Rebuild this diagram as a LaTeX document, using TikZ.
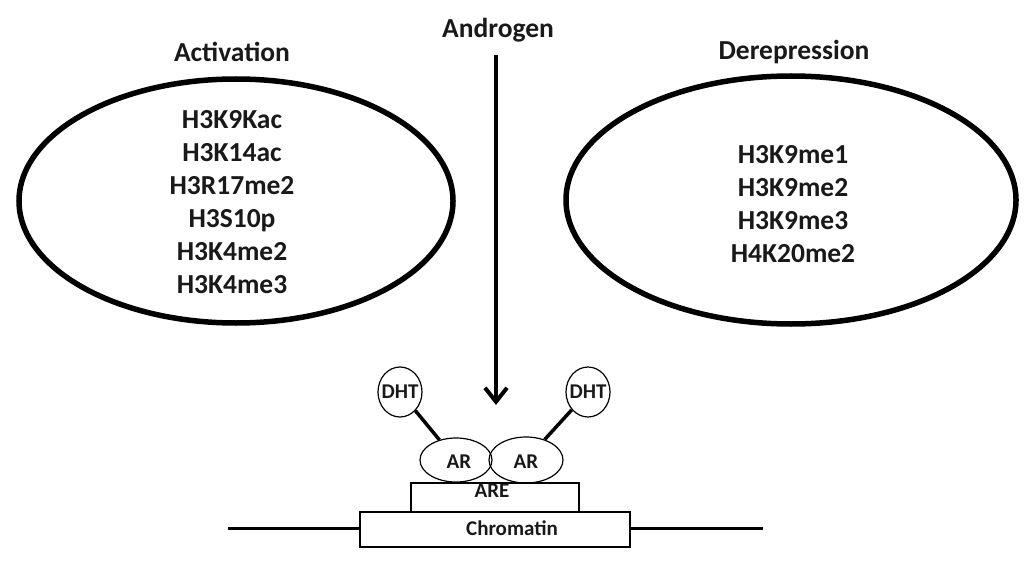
\documentclass[tikz,border=0pt]{standalone}
\usepackage{fontspec}
\setmainfont{Carlito}
\usetikzlibrary{shapes.geometric,arrows.meta}
\begin{document}
\begin{tikzpicture}[x=1pt,y=-1pt,
  big/.style={font=\fontsize{27.5}{33}\selectfont\bfseries, align=center, inner sep=0pt, text=black!90},
  small/.style={font=\fontsize{21}{22}\selectfont\bfseries, inner sep=0pt, text=black!90},
  bigoval/.style={ellipse, draw, line width=5.5pt, inner sep=0pt},
  smalloval/.style={ellipse, draw, line width=1.2pt, inner sep=0pt},
  box/.style={rectangle, draw, line width=1.6pt, inner sep=0pt},
  link/.style={line width=3.5pt},
  chrom/.style={line width=3pt}]
\useasboundingbox (0,0) rectangle (1024,564);
% titles
\node[big] (act) at (232,52) {Activation};
\node[big] (andr) at (498,30) {Androgen};
\node[big] (der) at (794,52) {Derepression};
% ovals
\node[bigoval, minimum width=434pt, minimum height=244pt] (ovL) at (236,201) {};
\node[bigoval, minimum width=450pt, minimum height=248pt] (ovR) at (791,200) {};
\node[big] (listL) at (232,202) {H3K9Kac\\H3K14ac\\H3R17me2\\H3S10p\\H3K4me2\\H3K4me3};
\node[big] (listR) at (793,204.5) {H3K9me1\\H3K9me2\\H3K9me3\\H4K20me2};
% arrow
\coordinate (astart) at (496,55);
\coordinate (atip) at (496,405);
\draw[line width=4pt, -{Straight Barb[length=14pt,width=22pt]}] (astart) -- (atip);
% DHT / AR
\node[smalloval, minimum width=44pt, minimum height=50pt] (dhtL) at (400,392) {};
\node[small] at (dhtL) {DHT};
\node[smalloval, minimum width=44pt, minimum height=50pt] (dhtR) at (588,392) {};
\node[small] at (dhtR) {DHT};
\node[smalloval, minimum width=72pt, minimum height=44pt] (arL) at (456,460) {};
\node[small] at (459,462) {AR};
\node[smalloval, minimum width=74pt, minimum height=46pt] (arR) at (526,460) {};
\node[small] at (526,462) {AR};
\draw[link] (dhtL) -- (arL);
\draw[link] (dhtR) -- (arR);
% ARE and chromatin
\node[box, minimum width=168pt, minimum height=29pt] (are) at (495,497.5) {};
\node[small] at (492,491) {ARE};
\node[box, minimum width=270pt, minimum height=35pt] (chr) at (495,529.5) {};
\node[small] at (512,528) {Chromatin};
\coordinate (chrL) at (228,528);
\coordinate (chrR) at (763,528);
\draw[chrom] (chrL) -- (chr.west |- chrL);
\draw[chrom] (chr.east |- chrR) -- (chrR);
\end{tikzpicture}
\end{document}
